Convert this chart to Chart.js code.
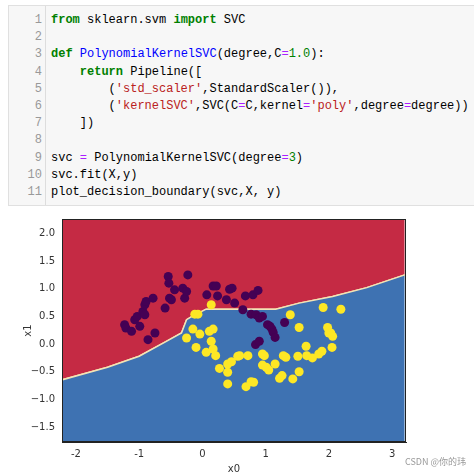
<!DOCTYPE html>
<html><head><meta charset="utf-8">
<script src="https://cdn.jsdelivr.net/npm/chart.js@4/dist/chart.umd.min.js"></script>
<style>
body{margin:0;width:474px;height:475px;background:#fff;position:relative;overflow:hidden;font-family:"Liberation Mono",monospace}
#code{position:absolute;left:8px;top:5px;width:470px;height:201px;background:#f7f7f7;border:1px solid #e0e0e0;box-sizing:border-box}
#nums{position:absolute;left:0;top:6px;width:33px;text-align:right;color:#999;font-size:12px;line-height:17.2px}
#sep{position:absolute;left:36px;top:0;bottom:0;border-left:1px solid #ddd}
#src{position:absolute;left:42px;top:6px;font-size:12px;line-height:17.2px;white-space:pre;color:#000}
.k{color:#008000;font-weight:bold}.f{color:#0000ff}.s{color:#ba2121}.n{color:#008000}.o{color:#aa22ff}
#wrap{position:absolute;left:0;top:210px;width:474px;height:265px}
#wm{position:absolute;right:8px;bottom:7px;font-family:"Noto Sans CJK SC";font-size:9px;color:#999}
</style></head><body>
<div id="code"><div id="nums">1<br>2<br>3<br>4<br>5<br>6<br>7<br>8<br>9<br>10<br>11</div><div id="sep"></div>
<div id="src"><span class="k">from</span> sklearn.svm <span class="k">import</span> SVC

<span class="k">def</span> <span class="f">PolynomialKernelSVC</span>(degree,C<span class="o">=</span><span class="n">1.0</span>):
    <span class="k">return</span> Pipeline([
        (<span class="s">'std_scaler'</span>,StandardScaler()),
        (<span class="s">'kernelSVC'</span>,SVC(C<span class="o">=</span>C,kernel<span class="o">=</span><span class="s">'poly'</span>,degree<span class="o">=</span>degree))
    ])

svc <span class="o">=</span> PolynomialKernelSVC(degree<span class="o">=</span><span class="n">3</span>)
svc.fit(X,y)
plot_decision_boundary(svc,X, y)</div></div>
<div id="wrap"><canvas id="c"></canvas></div>
<div id="wm">CSDN @你的玮</div>
<script>
const boundaryX=[-2.23,-1.5,-1.0,-0.57,-0.33,-0.25,-0.15,0.06,0.5,1.16,1.53,2.06,2.6,3.2];
const boundaryY=[-0.65,-0.42,-0.22,0.05,0.2,0.44,0.51,0.63,0.63,0.63,0.74,0.86,1.02,1.25];
const purpleX=[-1.23,-1.21,-1.12,-1.07,-1.03,-0.99,-0.94,-0.91,-0.89,-0.86,-0.78,-0.75,-0.91,-0.59,-0.54,-0.53,-0.52,-0.49,-0.44,-0.31,-0.28,-0.25,-0.23,0.07,0.17,0.22,0.24,0.38,0.43,0.47,0.51,0.64,0.68,0.77,0.80,0.85,0.88,0.90,1.03,1.07,1.10,1.12,1.15,0.84,0.90,1.30,0.95];
const purpleY=[0.35,0.29,0.23,0.44,0.50,0.32,0.59,0.71,0.77,0.08,0.83,0.20,0.53,0.65,1.22,1.10,0.83,0.80,0.98,1.01,0.83,0.95,1.25,0.89,1.05,1.05,0.87,0.80,0.99,1.01,0.74,0.62,0.87,0.54,0.89,0.53,0.97,0.47,0.35,0.32,0.27,0.21,0.12,-0.01,0.05,0.39,0.50];
const yellowX=[-0.12,-0.07,0.14,-0.15,-0.25,-0.04,-0.10,0.06,0.11,0.17,0.14,0.17,0.21,0.27,0.40,0.46,0.40,0.40,0.56,0.59,0.72,0.69,0.77,0.81,0.95,0.98,0.95,1.01,1.05,1.15,1.22,1.26,1.28,1.32,1.39,1.43,1.51,1.53,1.53,1.64,1.65,1.74,1.84,1.89,1.91,1.98,2.00,2.03,2.06,2.05,2.19];
const yellowY=[0.54,0.54,0.71,0.27,0.11,0.18,-0.06,-0.15,0.23,0.27,0.05,-0.09,-0.21,-0.44,-0.36,-0.32,-0.51,-0.72,-0.22,-0.21,-0.21,-0.77,-0.68,-0.69,-0.18,-0.21,-0.38,-0.42,-0.47,-0.36,-0.62,-0.57,-0.21,-0.24,0.53,-0.63,-0.22,0.30,-0.50,-0.04,-0.21,-0.25,-0.18,-0.13,0.66,0.30,0.20,0.20,0.14,-0.06,0.63];
const xTicks=[-2,-1,0,1,2,3];
const yTicks=[-1.5,-1.0,-0.5,0.0,0.5,1.0,1.5,2.0];
const zip=(a,b)=>a.map((v,i)=>({x:v,y:b[i]}));
const bnd=zip(boundaryX,boundaryY);
const tf={family:"DejaVu Sans",size:10};
const frame={id:'frame',afterDraw(c){const a=c.chartArea,g=c.ctx;g.save();g.strokeStyle='#222';g.lineWidth=1;g.strokeRect(a.left+0.5,a.top+0.5,a.right-a.left-1,a.bottom-a.top-1);g.restore();}};
new Chart(document.getElementById('c'),{
 type:'scatter',
 data:{datasets:[
  {data:zip(purpleX,purpleY),backgroundColor:'#440154',pointRadius:4.5,borderWidth:0,order:1},
  {data:zip(yellowX,yellowY),backgroundColor:'#fde725',pointRadius:4.5,borderWidth:0,order:1},
  {data:bnd,showLine:true,pointRadius:0,borderColor:'#f3e3b4',borderWidth:1.5,fill:'end',backgroundColor:'#c52a44',order:3},
  {data:bnd,showLine:true,pointRadius:0,borderColor:'#f3e3b4',borderWidth:1.5,fill:'start',backgroundColor:'#3e72b2',order:2}
 ]},
 options:{responsive:true,maintainAspectRatio:false,animation:false,
  layout:{padding:{top:9,right:68,left:22,bottom:0}},
  plugins:{legend:{display:false},tooltip:{enabled:false}},
  scales:{
   x:{min:-2.22,max:3.22,afterBuildTicks:s=>{s.ticks=xTicks.map(v=>({value:v}))},
      grid:{display:false,drawTicks:true,tickLength:4,tickColor:'#333'},border:{color:'#222'},
      ticks:{font:tf,color:'#333',padding:2,maxRotation:0,callback:v=>String(v)},
      title:{display:true,text:'x0',font:tf,color:'#333',padding:0},
      afterFit:s=>{s.height=33}},
   y:{min:-1.77,max:2.26,afterBuildTicks:s=>{s.ticks=yTicks.map(v=>({value:v}))},
      grid:{display:false,tickLength:4,tickColor:'#333'},border:{color:'#222'},
      ticks:{font:tf,color:'#333',padding:3,callback:v=>v.toFixed(1).replace('-','−')},
      title:{display:true,text:'x1',font:tf,color:'#333',padding:0},
      afterFit:s=>{s.width=40}}
  }},
 plugins:[frame]
});
</script></body></html>
